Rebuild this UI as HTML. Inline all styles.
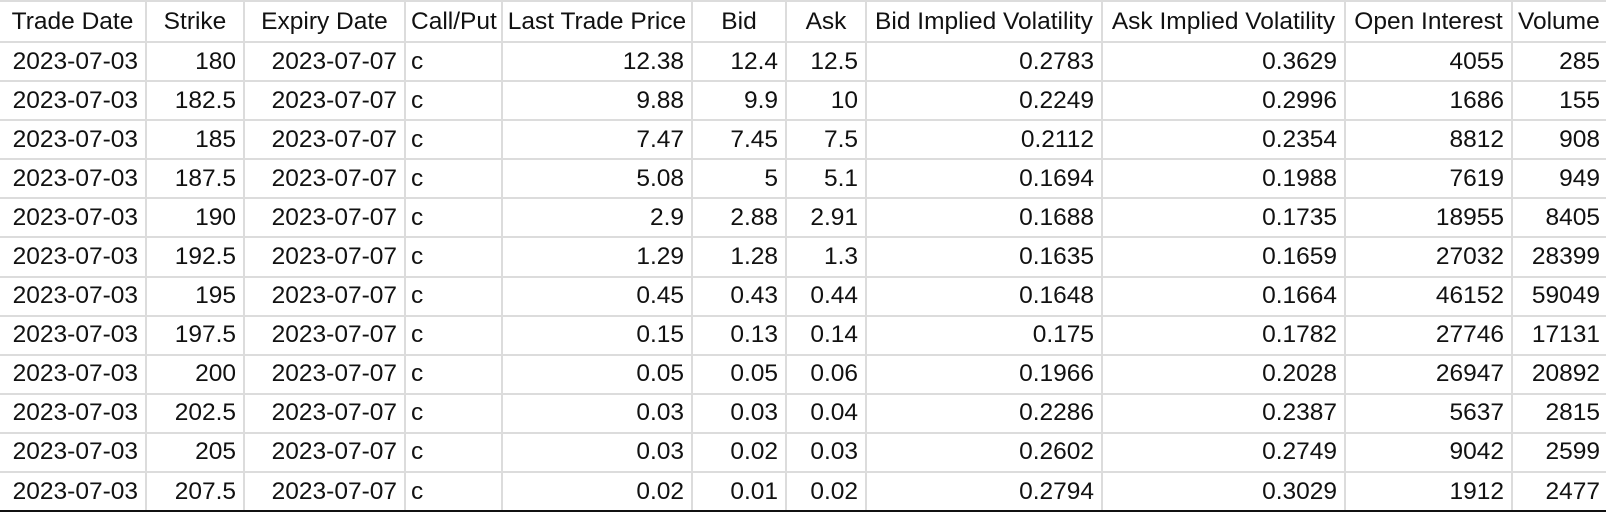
<!DOCTYPE html>
<html><head><meta charset="utf-8"><style>
html,body{margin:0;padding:0;background:#fff;width:1606px;height:510px;overflow:hidden}
table{position:absolute;left:0;top:0;border-collapse:collapse;table-layout:fixed;width:1608px;font-family:"Liberation Sans",Arial,sans-serif;font-size:24.5px;color:#111}
td,th{border:2px solid #dcdcdc;padding:0 7px 0 5px;white-space:nowrap;overflow:hidden;text-align:right;font-weight:normal}
th{text-align:center;height:39px;padding:0 2px}
td{height:37.1px}
tr:last-child td{border-bottom:2px solid #111}
td.l{text-align:left}
th.l{text-align:left;padding-left:5px}
td:first-child,th:first-child{border-left:none}
</style></head><body>
<table>
<colgroup><col style="width:146px"><col style="width:98px"><col style="width:161px"><col style="width:97px"><col style="width:190px"><col style="width:94px"><col style="width:80px"><col style="width:236px"><col style="width:243px"><col style="width:167px"><col style="width:96px"></colgroup>
<tr><th>Trade Date</th><th>Strike</th><th>Expiry Date</th><th class="l">Call/Put</th><th>Last Trade Price</th><th>Bid</th><th>Ask</th><th>Bid Implied Volatility</th><th>Ask Implied Volatility</th><th>Open Interest</th><th class="l">Volume</th></tr>
<tr><td>2023-07-03</td><td>180</td><td>2023-07-07</td><td class="l">c</td><td>12.38</td><td>12.4</td><td>12.5</td><td>0.2783</td><td>0.3629</td><td>4055</td><td>285</td></tr>
<tr><td>2023-07-03</td><td>182.5</td><td>2023-07-07</td><td class="l">c</td><td>9.88</td><td>9.9</td><td>10</td><td>0.2249</td><td>0.2996</td><td>1686</td><td>155</td></tr>
<tr><td>2023-07-03</td><td>185</td><td>2023-07-07</td><td class="l">c</td><td>7.47</td><td>7.45</td><td>7.5</td><td>0.2112</td><td>0.2354</td><td>8812</td><td>908</td></tr>
<tr><td>2023-07-03</td><td>187.5</td><td>2023-07-07</td><td class="l">c</td><td>5.08</td><td>5</td><td>5.1</td><td>0.1694</td><td>0.1988</td><td>7619</td><td>949</td></tr>
<tr><td>2023-07-03</td><td>190</td><td>2023-07-07</td><td class="l">c</td><td>2.9</td><td>2.88</td><td>2.91</td><td>0.1688</td><td>0.1735</td><td>18955</td><td>8405</td></tr>
<tr><td>2023-07-03</td><td>192.5</td><td>2023-07-07</td><td class="l">c</td><td>1.29</td><td>1.28</td><td>1.3</td><td>0.1635</td><td>0.1659</td><td>27032</td><td>28399</td></tr>
<tr><td>2023-07-03</td><td>195</td><td>2023-07-07</td><td class="l">c</td><td>0.45</td><td>0.43</td><td>0.44</td><td>0.1648</td><td>0.1664</td><td>46152</td><td>59049</td></tr>
<tr><td>2023-07-03</td><td>197.5</td><td>2023-07-07</td><td class="l">c</td><td>0.15</td><td>0.13</td><td>0.14</td><td>0.175</td><td>0.1782</td><td>27746</td><td>17131</td></tr>
<tr><td>2023-07-03</td><td>200</td><td>2023-07-07</td><td class="l">c</td><td>0.05</td><td>0.05</td><td>0.06</td><td>0.1966</td><td>0.2028</td><td>26947</td><td>20892</td></tr>
<tr><td>2023-07-03</td><td>202.5</td><td>2023-07-07</td><td class="l">c</td><td>0.03</td><td>0.03</td><td>0.04</td><td>0.2286</td><td>0.2387</td><td>5637</td><td>2815</td></tr>
<tr><td>2023-07-03</td><td>205</td><td>2023-07-07</td><td class="l">c</td><td>0.03</td><td>0.02</td><td>0.03</td><td>0.2602</td><td>0.2749</td><td>9042</td><td>2599</td></tr>
<tr><td>2023-07-03</td><td>207.5</td><td>2023-07-07</td><td class="l">c</td><td>0.02</td><td>0.01</td><td>0.02</td><td>0.2794</td><td>0.3029</td><td>1912</td><td>2477</td></tr>
</table>
</body></html>
